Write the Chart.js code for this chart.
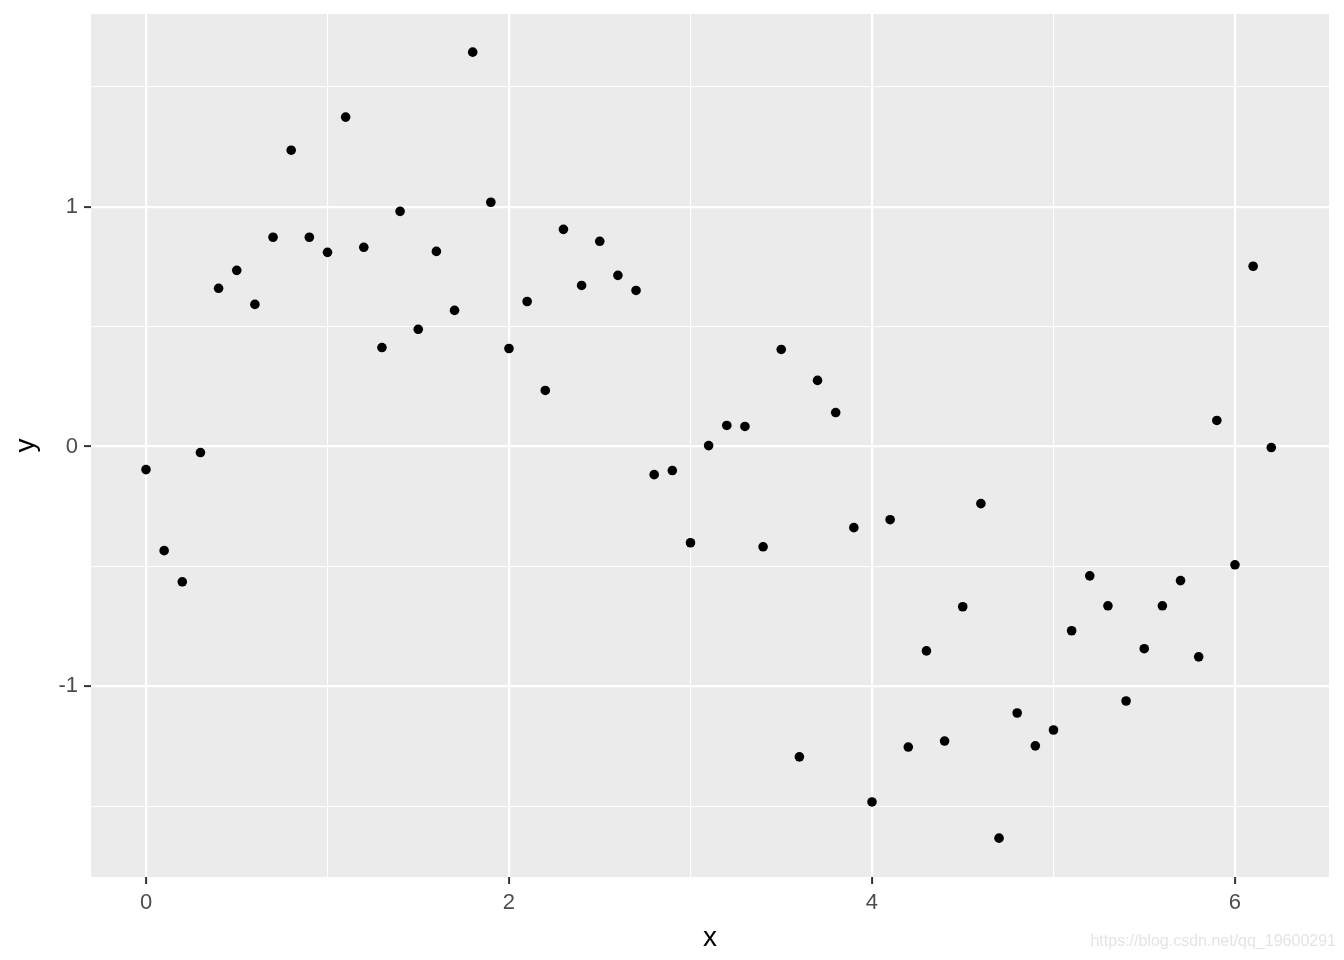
<!DOCTYPE html>
<html>
<head>
<meta charset="utf-8">
<script src="https://cdn.jsdelivr.net/npm/chart.js@4/dist/chart.umd.min.js"></script>
<style>
    html, body { margin: 0; padding: 0; background: #ffffff; }
    canvas { display: block; }
</style>
</head>
<body>
<canvas id="chart" width="1344" height="960"></canvas>
<script>
"use strict";

// data
const aXValues = [
    0.0, 0.1, 0.2, 0.3, 0.4, 0.5, 0.6, 0.7, 0.8, 0.9,
    1.0, 1.1, 1.2, 1.3, 1.4, 1.5, 1.6, 1.7, 1.8, 1.9,
    2.0, 2.1, 2.2, 2.3, 2.4, 2.5, 2.6, 2.7, 2.8, 2.9,
    3.0, 3.1, 3.2, 3.3, 3.4, 3.5, 3.6, 3.7, 3.8, 3.9,
    4.0, 4.1, 4.2, 4.3, 4.4, 4.5, 4.6, 4.7, 4.8, 4.9,
    5.0, 5.1, 5.2, 5.3, 5.4, 5.5, 5.6, 5.7, 5.8, 5.9,
    6.0, 6.1, 6.2
];
const aYValues = [
    -0.096, -0.434, -0.564, -0.025, 0.660, 0.735, 0.593, 0.873, 1.236, 0.873,
    0.810, 1.374, 0.831, 0.413, 0.981, 0.489, 0.814, 0.568, 1.645, 1.019,
    0.409, 0.605, 0.234, 0.906, 0.672, 0.856, 0.714, 0.651, -0.117, -0.100,
    -0.401, 0.004, 0.088, 0.084, -0.418, 0.405, -1.294, 0.276, 0.142, -0.338,
    -1.482, -0.305, -1.253, -0.852, -1.228, -0.668, -0.238, -1.633, -1.111, -1.248,
    -1.182, -0.768, -0.539, -0.664, -1.061, -0.843, -0.664, -0.559, -0.877, 0.109,
    -0.493, 0.752, -0.004
];

// grid positions; only the major ones get a label
const aXGrid = [0, 1, 2, 3, 4, 5, 6];
const aXMajor = [0, 2, 4, 6];
const aYGrid = [-1.5, -1, -0.5, 0, 0.5, 1, 1.5];
const aYMajor = [-1, 0, 1];

const sXTitle = "x";
const sYTitle = "y";
const sWatermark = "https://blog.csdn.net/qq_19600291";

const sFont = "'Liberation Sans', Arial, sans-serif";

function isMajor(aMajor, fValue) {
    return aMajor.some(function(v) { return Math.abs(v - fValue) < 1e-9; });
}

function makeScale(aGrid, aMajor, oExtra) {
    return Object.assign({
        afterBuildTicks: function(oScale) {
            oScale.ticks = aGrid.map(function(v) { return { value: v }; });
        },
        border: { display: false },
        grid: {
            color: "#ffffff",
            lineWidth: function(ctx) {
                return isMajor(aMajor, ctx.tick.value) ? 2.2 : 1.1;
            },
            drawTicks: true,
            tickLength: 7,
            tickWidth: 2,
            tickColor: function(ctx) {
                return isMajor(aMajor, ctx.tick.value) ? "#333333" : "rgba(0,0,0,0)";
            }
        }
    }, oExtra);
}

const oBackground = {
    id: "panelBackground",
    beforeDraw: function(oChart) {
        const ctx = oChart.ctx;
        const a = oChart.chartArea;
        ctx.save();
        ctx.fillStyle = "#ebebeb";
        ctx.fillRect(a.left, a.top, a.right - a.left, a.bottom - a.top);
        ctx.restore();
    },
    afterDraw: function(oChart) {
        const ctx = oChart.ctx;
        ctx.save();
        ctx.font = "16px " + sFont;
        ctx.fillStyle = "#e4e4e4";
        ctx.textAlign = "right";
        ctx.textBaseline = "middle";
        ctx.fillText(sWatermark, 1336, 942);
        ctx.restore();
    }
};

const oCanvasContext = document.getElementById("chart").getContext("2d");

new Chart(oCanvasContext, {
    type: "scatter",
    data: {
        datasets: [{
            data: aXValues.map(function(x, i) { return { x: x, y: aYValues[i] }; }),
            backgroundColor: "#000000",
            borderWidth: 0,
            pointRadius: 4.8,
            pointHoverRadius: 4.8
        }]
    },
    plugins: [oBackground],
    options: {
        responsive: false,
        animation: false,
        devicePixelRatio: 1,
        layout: {
            padding: { top: 14, right: 15, left: 0, bottom: 0 }
        },
        plugins: {
            legend: { display: false },
            tooltip: { enabled: false }
        },
        scales: {
            x: makeScale(aXGrid, aXMajor, {
                type: "linear",
                position: "bottom",
                min: -0.303,
                max: 6.518,
                afterFit: function(oScale) {
                    oScale.height = 83;
                    oScale.paddingLeft = 0;
                    oScale.paddingRight = 0;
                },
                ticks: {
                    padding: 6,
                    color: "#4d4d4d",
                    font: { family: sFont, size: 22 },
                    callback: function(v) { return isMajor(aXMajor, v) ? String(v) : ""; }
                },
                title: {
                    display: true,
                    text: sXTitle,
                    color: "#000000",
                    font: { family: sFont, size: 28 },
                    padding: { top: 0, bottom: 5 }
                }
            }),
            y: makeScale(aYGrid, aYMajor, {
                type: "linear",
                position: "left",
                min: -1.795,
                max: 1.804,
                afterFit: function(oScale) {
                    oScale.width = 91;
                    oScale.paddingTop = 0;
                    oScale.paddingBottom = 0;
                },
                ticks: {
                    padding: 6,
                    color: "#4d4d4d",
                    font: { family: sFont, size: 22 },
                    callback: function(v) { return isMajor(aYMajor, v) ? String(v) : ""; }
                },
                title: {
                    display: true,
                    text: sYTitle,
                    color: "#000000",
                    font: { family: sFont, size: 28 },
                    padding: { top: 9.9, bottom: 0 }
                }
            })
        }
    }
});
</script>
</body>
</html>
